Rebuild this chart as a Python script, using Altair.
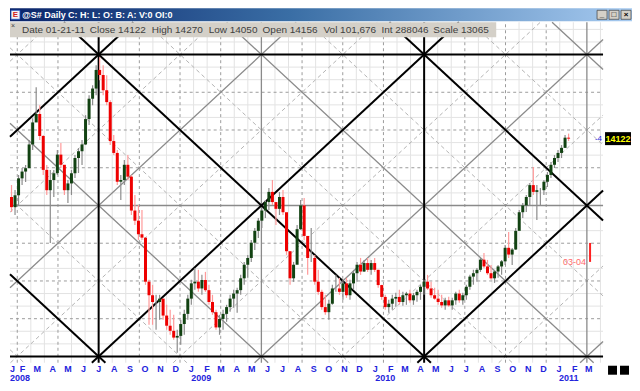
import math
import pandas as pd
import altair as alt

# ---------------- price data: weekly bars ----------------
first_week = "2008-01-10"
first_open = 12400
hi = [
    12753, 12606, 13048, 13254, 13342, 14079, 14727, 15641, 15110, 14226,
    13342, 13195, 13195, 13784, 13991, 13195, 12901, 13195, 13637, 13843,
    14079, 14815, 15405, 15699, 16289, 16525, 16289, 15994, 15257, 14226,
    13784, 13048, 13490, 13637, 13048, 12458, 12164, 12017, 11133, 9954,
    9806, 9512, 9512, 9365, 9217, 9070, 8922, 8481, 8775, 9070,
    9512, 9954, 10307, 10249, 10101, 10189, 9806, 9512, 9070, 8922,
    9070, 9217, 9512, 9659, 9718, 10101, 10484, 10690, 11133, 11486,
    11781, 12076, 12311, 12665, 12901, 12164, 12547, 12606, 11574, 10690,
    10484, 11574, 12311, 12370, 11133, 11486, 10690, 10249, 9659, 9512,
    9365, 9806, 10101, 10013, 9954, 10013, 9954, 10249, 10484, 10602,
    10543, 10602, 10543, 10602, 10249, 9806, 9512, 9365, 9512, 9570,
    9659, 9600, 9600, 9659, 9570, 9659, 9806, 9954, 10101, 9895,
    9718, 9659, 9512, 9423, 9453, 9423, 9600, 9659, 9570, 9806,
    10101, 10249, 10307, 10602, 10750, 10543, 10396, 10249, 10396, 10543,
    10985, 11368, 10897, 11486, 12017, 12223, 12458, 12812, 13283, 12753,
    12665, 12901, 13136, 13431, 13637, 13784, 13932, 14226, 14270]
lo = [
    11958, 11869, 12164, 12753, 12841, 13342, 13784, 14668, 14079, 13048,
    12458, 11044, 12399, 13048, 13254, 12458, 12223, 12458, 12959, 13107,
    13342, 13932, 14521, 15110, 15405, 15847, 15405, 15110, 13932, 13637,
    12753, 12311, 12753, 12901, 11869, 11574, 11133, 11133, 9806, 8628,
    8628, 8481, 8775, 8775, 8481, 8333, 8186, 7803, 8039, 8333,
    8775, 9217, 9659, 9600, 9512, 9600, 9217, 8922, 8481, 8333,
    8481, 8716, 9011, 9129, 8981, 9512, 9806, 10013, 10484, 10838,
    11191, 11486, 11781, 12017, 12164, 11574, 11869, 11869, 10690, 9806,
    9895, 10543, 11427, 11133, 10101, 10484, 9806, 9512, 9070, 8922,
    8775, 9217, 9600, 9512, 9365, 9423, 9365, 9659, 9895, 10101,
    10189, 10189, 10101, 10189, 9718, 9365, 9070, 8981, 9070, 9158,
    9217, 9188, 9217, 9276, 9217, 9306, 9365, 9512, 9659, 9423,
    9365, 9217, 9129, 9070, 9158, 9070, 9217, 9276, 9217, 9365,
    9659, 9806, 9895, 10189, 10307, 10101, 9954, 9865, 10013, 10101,
    10396, 10602, 10396, 10838, 11427, 11781, 11958, 12164, 12458, 11722,
    12164, 12458, 12694, 12959, 13254, 13431, 13549, 13843, 14050]
cl = [
    12100, 12450, 12950, 13150, 13250, 13950, 14600, 14850, 14200, 13200,
    12600, 12900, 13100, 13650, 13350, 12600, 12800, 13100, 13550, 13750,
    13950, 14700, 15300, 15600, 16150, 16000, 15550, 15200, 14050, 13700,
    12850, 12900, 13350, 13000, 12000, 11700, 11300, 11200, 9900, 9500,
    9300, 9300, 9400, 8900, 8600, 8450, 8250, 8300, 8650, 8950,
    9400, 9850, 9900, 9700, 9950, 9650, 9300, 9000, 8550, 8800,
    8950, 9150, 9400, 9550, 9650, 10000, 10400, 10600, 11050, 11400,
    11700, 12000, 12250, 12550, 12250, 12050, 12400, 11950, 10800, 10000,
    10400, 11450, 12150, 11250, 10600, 10600, 9900, 9600, 9150, 9000,
    9250, 9700, 9700, 9600, 9850, 9500, 9850, 10150, 10400, 10200,
    10450, 10250, 10450, 10250, 9800, 9450, 9150, 9250, 9400, 9450,
    9300, 9500, 9550, 9350, 9500, 9600, 9750, 9900, 9700, 9500,
    9400, 9300, 9200, 9350, 9200, 9350, 9550, 9350, 9500, 9750,
    10050, 10150, 10250, 10550, 10350, 10150, 10000, 10200, 10350, 10500,
    10900, 10700, 10850, 11400, 11950, 12150, 12400, 12750, 12550, 12600,
    12600, 12850, 13050, 13350, 13550, 13700, 13850, 14150, 14122]

# ---------------- axis labels / texts ----------------
y_ticks = [7694, 8100, 8504, 8910, 9314, 9720, 10124, 10530, 10934, 11340,
           11744, 12150, 12554, 12960, 13364, 13770, 14580, 14984, 15390,
           15794, 16200, 16604, 17010]
month_letters = "JFMAMJJASOND"
years = ["2008", "2009", "2010", "2011"]
title_text = "@S# Daily C: H: L: O: B: A: V:0 OI:0"
info_labels = ["Date 01-21-11", "Close 14122", "High 14270", "Low 14050",
               "Open 14156", "Vol 101,676", "Int 288046", "Scale 13065"]
last_close = 14122
target_label = "03-04"

# ---------------- Gann grid parameters ----------------
grid_origin = "2008-07-01"
grid_unit_days = 323.1
grid_top = 16604
grid_unit_price = 4455

# ---------------- layout ----------------
BASE = pd.Timestamp("2008-01-01")
W, H = 594, 341
X_DOM = [6.0, 6.0 + W / 0.5045]
Y_DOM = [7508.0, 17556.0]
xs = alt.Scale(domain=X_DOM, nice=False, zero=False)
ys = alt.Scale(domain=Y_DOM, nice=False, zero=False)
BLUE = "#2323dc"
FONT = "Liberation Sans"
one = pd.DataFrame({"k": [0]})


def XQ(field, axis=None):
    return alt.X(field, type="quantitative", scale=xs, axis=axis)


def YQ(field, axis=None):
    return alt.Y(field, type="quantitative", scale=ys, axis=axis)


# ---------------- grid segments ----------------
g0 = (pd.Timestamp(grid_origin) - BASE).days


def to_day(u):
    return g0 + u * grid_unit_days


def to_price(v):
    return grid_top - v * grid_unit_price


ux0 = (X_DOM[0] - g0) / grid_unit_days
ux1 = (X_DOM[1] - g0) / grid_unit_days
vy0 = (grid_top - Y_DOM[1]) / grid_unit_price
vy1 = (grid_top - Y_DOM[0]) / grid_unit_price


def style_of(n):
    if n % 12 == 0:
        return "black" if (n // 12) % 2 == 0 else "grey"
    if n % 3 == 0:
        return "dash"
    return "fine"


segs = []
for i in range(math.ceil(ux0 * 12), math.floor(ux1 * 12) + 1):
    d = to_day(i / 12)
    segs.append((d, d, Y_DOM[0], Y_DOM[1], style_of(i)))
for j in range(math.ceil(vy0 * 12), math.floor(vy1 * 12) + 1):
    p = to_price(j / 12)
    segs.append((X_DOM[0], X_DOM[1], p, p, style_of(j)))
for m in range(-12, 16):
    c = m / 2
    if m % 2 == 0:
        st = "black" if (m // 2) % 2 == 0 else "grey"
    else:
        st = "ddash"
    a, b = max(ux0, vy0 + c), min(ux1, vy1 + c)
    if a < b:
        segs.append((to_day(a), to_day(b), to_price(a - c), to_price(b - c), st))
    a, b = max(ux0, c - vy1), min(ux1, c - vy0)
    if a < b:
        segs.append((to_day(a), to_day(b), to_price(c - a), to_price(c - b), st))
grid = pd.DataFrame(segs, columns=["d0", "d1", "p0", "p1", "st"])

styles = {
    "fine": dict(color="#e3e3e3", strokeWidth=1),
    "ddash": dict(color="#b4b4b4", strokeWidth=1, strokeDash=[4, 3]),
    "dash": dict(color="#9c9c9c", strokeWidth=1, strokeDash=[3, 3]),
    "grey": dict(color="#8a8a8a", strokeWidth=1.3),
    "black": dict(color="#000000", strokeWidth=2),
}
grid_layers = []
for st, kw in styles.items():
    grid_layers.append(
        alt.Chart(grid[grid.st == st]).mark_rule(**kw).encode(
            x=XQ("d0"), x2="d1", y=YQ("p0"), y2="p1"))

# ---------------- candles ----------------
bars = pd.DataFrame({
    "date": pd.date_range(first_week, periods=len(hi), freq="7D"),
    "hi": hi, "lo": lo, "cl": cl})
bars["op"] = [first_open] + cl[:-1]
bars["day"] = (bars["date"] - BASE).dt.days

month_starts = pd.date_range("2008-01-01", "2011-03-01", freq="MS")
mdays = [(d - BASE).days for d in month_starts]
tick_days = [d for d in mdays if d >= X_DOM[0]]

x_axis = alt.Axis(values=tick_days, labels=False, ticks=True, tickSize=3,
                  tickColor="#5a5af0", domainColor="#a4a4ff", domainWidth=1.5,
                  grid=False, title=None)
y_axis = alt.Axis(orient="right", values=y_ticks, tickSize=2, labelPadding=2,
                  tickColor="#7070f0", domainColor="#a4a4ff", domainWidth=1.5,
                  labelColor=BLUE, labelFont=FONT, labelFontSize=9,
                  labelFontWeight="bold", labelOverlap=False, grid=False,
                  title=None)

wick = alt.Chart(bars).mark_rule(strokeWidth=1.2).encode(
    x=XQ("day", x_axis), y=YQ("lo", y_axis), y2="hi",
    color=alt.condition("datum.cl >= datum.op", alt.value("#8c8c8c"),
                        alt.value("#ff9a9a")))
body = alt.Chart(bars).mark_rule(strokeWidth=3.0, strokeCap="butt").encode(
    x=XQ("day"), y=YQ("op"), y2="cl",
    color=alt.condition("datum.cl >= datum.op", alt.value("#124212"),
                        alt.value("#ee0000")))

# ---------------- month / year labels ----------------
mlab = pd.DataFrame({"day": mdays,
                     "t": [month_letters[d.month - 1] for d in month_starts]})
months_c = alt.Chart(mlab[mlab.day >= X_DOM[0] + 4]).mark_text(
    align="center", baseline="top", fontSize=9, fontWeight="bold",
    color=BLUE, font=FONT).encode(x=XQ("day"), y=alt.value(H + 2), text="t:N")
first_m = mlab[mlab.day < X_DOM[0] + 4].copy()
first_m["day"] = first_m["day"].clip(lower=X_DOM[0])
months_l = alt.Chart(first_m).mark_text(
    align="left", baseline="top", fontSize=9, fontWeight="bold",
    color=BLUE, font=FONT).encode(x=XQ("day"), y=alt.value(H + 2), text="t:N")
ylab = pd.DataFrame({"t": years,
                     "day": [max((pd.Timestamp(y + "-01-01") - BASE).days, X_DOM[0])
                             for y in years]})
years_t = alt.Chart(ylab).mark_text(
    align="left", baseline="middle", fontSize=9, fontWeight="bold",
    color=BLUE, font=FONT).encode(x=XQ("day"), y=alt.value(H + 15.5), text="t:N")

# ---------------- last price marker and target ----------------
lastdf = pd.DataFrame({"p": [last_close], "t": [str(last_close)]})
marker_box = alt.Chart(lastdf).mark_point(
    shape="M-1,-0.5L1,-0.5L1,0.5L-1,0.5Z", size=676, filled=True,
    color="black", opacity=1).encode(x=alt.value(W + 15), y=YQ("p"))
marker_txt = alt.Chart(lastdf).mark_text(
    fontSize=9, fontWeight="bold", color="#ffff00", font=FONT).encode(
    x=alt.value(W + 15), y=YQ("p"), text="t:N")
marker_tag = alt.Chart(lastdf).mark_text(
    fontSize=8, color=BLUE, font=FONT, align="right").encode(
    x=alt.value(W - 1), y=YQ("p"), text=alt.value("-4"))
target_txt = alt.Chart(one).mark_text(
    fontSize=9, color="#ff6a6a", font=FONT, align="left").encode(
    x=alt.value(554), y=alt.value(240), text=alt.value(target_label))
target_bar = alt.Chart(one).mark_rule(color="#ff2020", strokeWidth=2).encode(
    x=alt.value(581), y=alt.value(221), y2=alt.value(240))

# ---------------- window chrome ----------------
grad = alt.LinearGradient(
    gradient="linear", x1=0, x2=1, y1=0, y2=0,
    stops=[alt.GradientStop(color="#0a246a", offset=0),
           alt.GradientStop(color="#3a6ea5", offset=0.45),
           alt.GradientStop(color="#a6caf0", offset=1)])
title_bar = alt.Chart(one).mark_rect(color=grad).encode(
    x=alt.value(0), x2=alt.value(623), y=alt.value(-14), y2=alt.value(-1))
title_txt = alt.Chart(one).mark_text(
    align="left", baseline="middle", fontSize=9, fontWeight="bold",
    color="white", font=FONT).encode(
    x=alt.value(12), y=alt.value(-7), text=alt.value(title_text))
icon = alt.Chart(one).mark_rect(color="#f4f4f4", stroke="#2050c0",
                                strokeWidth=0.8).encode(
    x=alt.value(1), x2=alt.value(10), y=alt.value(-12), y2=alt.value(-3))
icon_t = alt.Chart(one).mark_text(
    fontSize=8, fontWeight="bold", color="#d02020", font=FONT).encode(
    x=alt.value(5.5), y=alt.value(-7), text=alt.value("E"))
chrome = [title_bar, title_txt, icon, icon_t]
for bx, glyph in zip([588, 600, 612], ["_", "□", "×"]):
    chrome.append(alt.Chart(one).mark_rect(
        color="#d4d0c8", stroke="#404040", strokeWidth=0.7).encode(
        x=alt.value(bx), x2=alt.value(bx + 10), y=alt.value(-12),
        y2=alt.value(-3)))
    chrome.append(alt.Chart(one).mark_text(
        fontSize=8, fontWeight="bold", color="black", font=FONT).encode(
        x=alt.value(bx + 5), y=alt.value(-7.5), text=alt.value(glyph)))

info_box = alt.Chart(one).mark_rect(color="#d4d0c8").encode(
    x=alt.value(0), x2=alt.value(487), y=alt.value(0), y2=alt.value(15))
chrome.append(info_box)
info_x = [12, 80, 142, 199, 253, 314, 372, 424]
for lab, xpos in zip(info_labels, info_x):
    chrome.append(alt.Chart(one).mark_text(
        align="left", baseline="middle", fontSize=10, color="#404040",
        font=FONT).encode(x=alt.value(xpos), y=alt.value(7.5),
                          text=alt.value(lab)))
chrome.append(alt.Chart(one).mark_text(
    fontSize=7, color="#404040", font=FONT).encode(
    x=alt.value(3), y=alt.value(3.5), text=alt.value("×")))

squares = [alt.Chart(one).mark_rect(color="black").encode(
    x=alt.value(sx), x2=alt.value(sx + 9), y=alt.value(H + 3),
    y2=alt.value(H + 12)) for sx in [599, 611]]

chart = alt.layer(
    *grid_layers, wick, body, months_c, months_l, years_t,
    target_txt, target_bar, marker_tag, *chrome, *squares,
    marker_box, marker_txt,
).properties(width=W, height=H, padding=0, background="white"
).configure_view(stroke=None)

chart.save("out.html", embed_options={"renderer": "svg", "actions": False})
